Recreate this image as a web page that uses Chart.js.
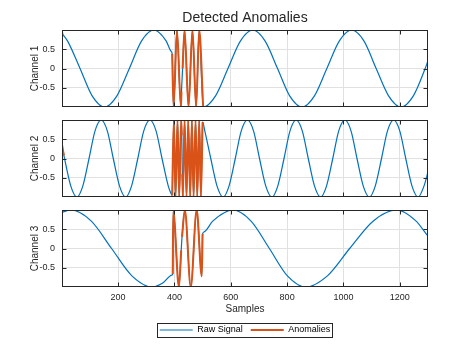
<!DOCTYPE html>
<html><head><meta charset="utf-8">
<script src="https://cdn.jsdelivr.net/npm/chart.js@4/dist/chart.umd.min.js"></script>
<style>
html,body{margin:0;padding:0;background:#fff;}
#wrap{position:relative;width:474px;height:355px;overflow:hidden;background:#fff;}
canvas{position:absolute;left:0;}
</style></head><body>
<div id="wrap">
<canvas id="c1" style="top:0px" width="474" height="110"></canvas>
<canvas id="c2" style="top:112px" width="474" height="88"></canvas>
<canvas id="c3" style="top:200px" width="474" height="155"></canvas>
</div>
<script>
// ---- data ----
const chartTitle = 'Detected Anomalies';
const xLabel = 'Samples';
const channelNames = ['Channel 1', 'Channel 2', 'Channel 3'];
const seriesNames = ['Raw Signal', 'Anomalies'];
const xTicks = [200, 400, 600, 800, 1000, 1200];
const yTicks = [-0.5, 0, 0.5];

const ch1RawX = [1,21,65,108,152,196,240,283,327,371,388,392,397,409,423,425,429,436,450,464,477,488,502,546,590,634,678,722,766,809,853,897,941,985,1029,1073,1116,1160,1204,1248,1290,1300];
const ch1RawY = [0.91,0.71,0,-0.71,-1,-0.71,0,0.71,1,0.71,0.45,0.38,-1,1,-1,-0.6,0,1,-1,1,-1,1,-1,-0.71,0,0.71,1,0.71,0,-0.71,-1,-0.71,0,0.71,1,0.71,0,-0.71,-1,-0.71,0,0.2];
const ch1AnomX = [1,4,200,392,397,409,423,425,427,429,436,450,464,477,488,502];
const ch1AnomY = [0.93,0.9,null,0.38,-1,1,-1,-0.6,null,0,1,-1,1,-1,1,-1];

const ch2RawX = [1,10,32,54,75,97,118,140,162,183,205,227,248,270,291,313,335,356,378,388,392,398,404,411,417,424,426,428,430,436,443,449,456,462,468,475,481,488,494,500,508,529,551,573,594,616,637,659,681,702,724,746,767,789,810,832,854,875,897,919,940,962,983,1005,1027,1048,1070,1092,1113,1135,1156,1178,1200,1221,1243,1265,1286,1300];
const ch2RawY = [0.34,0,-0.71,-1,-0.71,0,0.71,1,0.71,0,-0.71,-1,-0.71,0,0.71,1,0.71,0,-0.71,-0.91,-0.96,1,-1,1,-1,1,0.6,-0.4,-1,1,-1,1,-1,1,-1,1,-1,1,-1,0.95,0.71,0,-0.71,-1,-0.71,0,0.71,1,0.71,0,-0.71,-1,-0.71,0,0.71,1,0.71,0,-0.71,-1,-0.71,0,0.71,1,0.71,0,-0.71,-1,-0.71,0,0.71,1,0.71,0,-0.71,-1,-0.71,-0.35];
const ch2AnomX = [1,4,8,200,392,398,404,411,417,424,426,427,428,430,436,443,449,456,462,468,475,481,488,494,500];
const ch2AnomY = [0.36,0.22,0.08,null,-0.96,1,-1,1,-1,1,0.6,null,-0.4,-1,1,-1,1,-1,1,-1,1,-1,1,-1,0.95];

const ch3RawX = [1,33,105,177,249,321,360,391,394,396,416,424,427,437,458,479,497,500,505,536,608,672,737,801,866,943,1022,1105,1188,1255,1300];
const ch3RawY = [0.94,1,0.71,0,-0.71,-1,-0.89,-0.69,-0.66,0.97,-1,-0.05,0.3,1,-1,1,-0.72,0.38,0.43,0.71,1,0.71,0,-0.71,-1,-0.71,0,0.71,1,0.73,0.32];
const ch3AnomX = [1,4,200,394,396,416,424,425,427,437,458,479,497,500];
const ch3AnomY = [0.95,0.97,null,-0.66,0.97,-1,-0.05,null,0.3,1,-1,1,-0.72,0.38];

// ---- styling ----
const BLUE = '#0072BD', ORANGE = '#D95319', AXC = '#262626', GRID = '#e1e1e1';
const FONT = "'Liberation Sans', Arial, Helvetica, sans-serif";
Chart.defaults.font.family = FONT;
Chart.defaults.color = AXC;

const toPts = (xs, ys) => xs.map((x, i) => ({x: x, y: ys[i]}));

const axesBox = {
  id: 'axesBox',
  afterDatasetsDraw(chart) {
    const {ctx, chartArea: a, scales} = chart;
    const xs = scales.x, ys = scales.y;
    const L = Math.round(a.left) + 0.5, R = Math.round(a.right) - 0.5;
    const T = Math.round(a.top) + 0.5, B = Math.round(a.bottom) - 0.5;
    ctx.save();
    ctx.strokeStyle = AXC; ctx.lineWidth = 1;
    ctx.beginPath();
    xs.ticks.forEach(t => {
      const p = Math.round(xs.getPixelForValue(t.value)) + 0.5;
      ctx.moveTo(p, B); ctx.lineTo(p, B - 4);
      ctx.moveTo(p, T); ctx.lineTo(p, T + 4);
    });
    ys.ticks.forEach(t => {
      const p = Math.round(ys.getPixelForValue(t.value)) + 0.5;
      ctx.moveTo(L, p); ctx.lineTo(L + 4, p);
      ctx.moveTo(R, p); ctx.lineTo(R - 4, p);
    });
    ctx.stroke();
    ctx.strokeRect(L, T, R - L, B - T);
    ctx.restore();
  }
};

const legendBox = {
  id: 'legendBox',
  afterDraw(chart) {
    const lg = chart.legend;
    if (!lg || !lg.legendHitBoxes || !lg.legendHitBoxes.length) return;
    const hb = lg.legendHitBoxes;
    const first = hb[0], last = hb[hb.length - 1];
    const cy = first.top + first.height / 2;
    const l = Math.round(first.left - 3) + 0.5;
    const r = Math.round(last.left + last.width + 2) + 0.5;
    const t = Math.round(cy - 7) + 0.5, b = Math.round(cy + 7) + 0.5;
    const ctx = chart.ctx;
    ctx.save();
    ctx.strokeStyle = AXC; ctx.lineWidth = 1;
    ctx.strokeRect(l, t, r - l, b - t);
    ctx.restore();
  }
};

function makeChart(id, idx, raw, anom, opt) {
  const datasets = [
    {label: seriesNames[0], data: raw, borderColor: BLUE, backgroundColor: BLUE, borderWidth: 1.2,
     pointRadius: 0, cubicInterpolationMode: 'monotone', spanGaps: false, order: 2},
    {label: seriesNames[1], data: anom, borderColor: ORANGE, backgroundColor: ORANGE, borderWidth: 2,
     pointRadius: 0, cubicInterpolationMode: 'monotone', spanGaps: false, order: 1}
  ];
  return new Chart(document.getElementById(id), {
    type: 'line',
    data: {datasets},
    plugins: [axesBox].concat(opt.legend ? [legendBox] : []),
    options: {
      responsive: false, animation: false, devicePixelRatio: 1,
      layout: {padding: {left: 0, right: 46, top: opt.padTop, bottom: opt.padBottom}},
      plugins: {
        title: opt.title ? {display: true, text: chartTitle, fullSize: false, color: AXC,
          font: {size: 14, weight: 'normal', family: FONT}, padding: {top: 9.6, bottom: 3.6}} : {display: false},
        legend: opt.legend ? {display: true, position: 'bottom', fullSize: false, align: 'center',
          labels: {usePointStyle: true, pointStyle: 'line', pointStyleWidth: 33, boxHeight: 9,
            padding: 8, color: '#000', font: {size: 9, family: FONT},
            sort: (a, b) => a.datasetIndex - b.datasetIndex}} : {display: false},
        tooltip: {enabled: false}
      },
      scales: {
        x: {
          type: 'linear', min: 1, max: 1300, position: 'bottom',
          afterBuildTicks: s => { s.ticks = xTicks.map(v => ({value: v})); },
          afterFit: s => { s.height = opt.xHeight; s.paddingLeft = 0; s.paddingRight = 0; },
          grid: {color: GRID, lineWidth: 1, drawTicks: false},
          border: {display: false},
          ticks: {display: !!opt.xLabels, padding: 5, color: AXC, font: {size: 9, family: FONT}, maxRotation: 0,
                  callback: v => String(v)},
          title: {display: !!opt.xLabels, text: xLabel, color: AXC, font: {size: 10, family: FONT},
                  padding: {top: 0, bottom: 2.5}}
        },
        y: {
          type: 'linear', min: -1, max: 1, position: 'left',
          afterBuildTicks: s => { s.ticks = yTicks.map(v => ({value: v})); },
          afterFit: s => { s.width = 62; s.paddingTop = 0; s.paddingBottom = 0; },
          grid: {color: GRID, lineWidth: 1, drawTicks: false},
          border: {display: false},
          ticks: {padding: 7, color: AXC, font: {size: 9, family: FONT}, callback: v => String(v)},
          title: {display: true, text: channelNames[idx], color: AXC, font: {size: 10, family: FONT},
                  padding: {top: 29, bottom: 0}}
        }
      }
    }
  });
}

makeChart('c1', 0, toPts(ch1RawX, ch1RawY), toPts(ch1AnomX, ch1AnomY),
  {title: true, padTop: 0, padBottom: 0, xHeight: 3});
makeChart('c2', 1, toPts(ch2RawX, ch2RawY), toPts(ch2AnomX, ch2AnomY),
  {padTop: 8, padBottom: 0, xHeight: 3});
makeChart('c3', 2, toPts(ch3RawX, ch3RawY), toPts(ch3AnomX, ch3AnomY),
  {padTop: 10, padBottom: 10.5, xHeight: 30.5, xLabels: true, legend: true});
</script>
</body></html>
